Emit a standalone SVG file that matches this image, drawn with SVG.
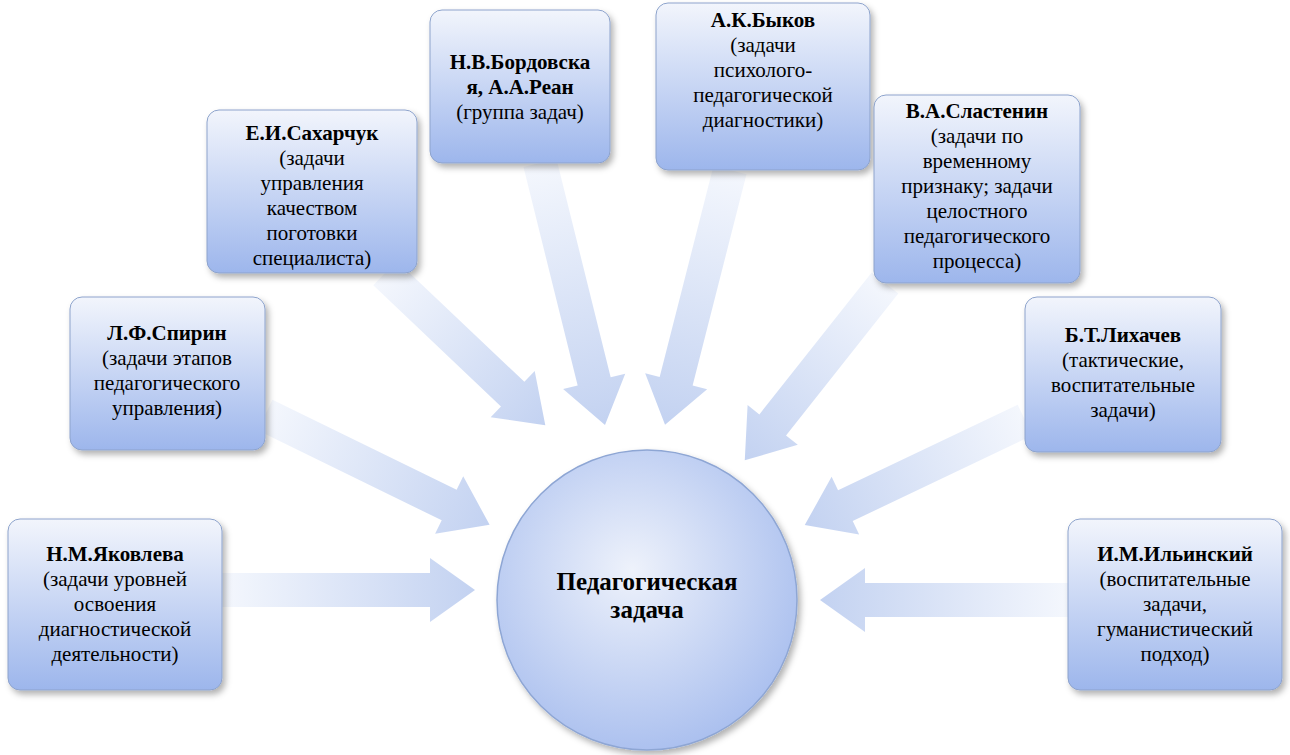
<svg xmlns="http://www.w3.org/2000/svg" width="1290" height="755" viewBox="0 0 1290 755" font-family="'Liberation Serif', 'Times New Roman', 'DejaVu Serif', serif">
<defs>
<linearGradient id="bg" x1="0" y1="0" x2="0" y2="1"><stop offset="0" stop-color="#f2f5fc"/><stop offset="1" stop-color="#9db6ec"/></linearGradient>
<linearGradient id="ag" x1="0" y1="0" x2="1" y2="0"><stop offset="0" stop-color="#f4f7fd"/><stop offset="1" stop-color="#c3d2f1"/></linearGradient>
<radialGradient id="cg" cx="0.45" cy="0.4" r="0.65"><stop offset="0" stop-color="#eef2fb"/><stop offset="1" stop-color="#a7bdee"/></radialGradient>
<filter id="sh" x="-10%" y="-10%" width="130%" height="130%"><feDropShadow dx="3" dy="4" stdDeviation="3" flood-color="#000" flood-opacity="0.3"/></filter>
</defs>
<style>
.box{fill:url(#bg);stroke:#8da3cc;stroke-width:1;filter:url(#sh)}
.arr{fill:url(#ag)}
text{font-family:'Liberation Serif','Times New Roman','DejaVu Serif',serif;font-size:21px;fill:#000;text-anchor:middle}
.b{font-weight:bold}
</style>
<g id="connectors">
<polygon class="arr" transform="translate(222,590)" points="0,-17 208,-17 208,-32 253,0 208,32 208,17 0,17"/>
<polygon class="arr" transform="translate(265,415) rotate(26.05)" points="0,-17 205,-17 205,-32 250,0 205,32 205,17 0,17"/>
<polygon class="arr" transform="translate(385,273) rotate(43.5)" points="0,-17 176,-17 176,-32 221,0 176,32 176,17 0,17"/>
<polygon class="arr" transform="translate(540,163) rotate(76.07)" points="0,-17 225,-17 225,-32 270,0 225,32 225,17 0,17"/>
<polygon class="arr" transform="translate(730,170) rotate(104.3)" points="0,-17 218,-17 218,-32 263,0 218,32 218,17 0,17"/>
<polygon class="arr" transform="translate(885,283) rotate(128.35)" points="0,-17 181,-17 181,-32 226,0 181,32 181,17 0,17"/>
<polygon class="arr" transform="translate(1025,420) rotate(154.5)" points="0,-17 199,-17 199,-32 244,0 199,32 199,17 0,17"/>
<polygon class="arr" transform="translate(1068,600) rotate(180)" points="0,-17 203,-17 203,-32 248,0 203,32 203,17 0,17"/>
</g>
<g id="center">
<circle cx="647" cy="600" r="150" fill="url(#cg)" stroke="#8ea6d4" stroke-width="1.5" filter="url(#sh)"/>
<text x="647" y="590" class="b" style="font-size:25px">Педагогическая</text>
<text x="647" y="618" class="b" style="font-size:25px">задача</text>
</g>
<g id="n1"><rect class="box" x="8" y="519" width="214" height="171" rx="12"/>
<text x="115" y="561" class="b">Н.М.Яковлева</text><text x="115" y="586">(задачи уровней</text><text x="115" y="611">освоения</text><text x="115" y="636">диагностической</text><text x="115" y="661">деятельности)</text></g>
<g id="n2"><rect class="box" x="70" y="297" width="195" height="153" rx="12"/>
<text x="167" y="340" class="b">Л.Ф.Спирин</text><text x="167" y="365">(задачи этапов</text><text x="167" y="390">педагогического</text><text x="167" y="415">управления)</text></g>
<g id="n3"><rect class="box" x="207" y="110" width="210" height="163" rx="12"/>
<text x="312" y="140" class="b">Е.И.Сахарчук</text><text x="312" y="165">(задачи</text><text x="312" y="190">управления</text><text x="312" y="215">качеством</text><text x="312" y="240">поготовки</text><text x="312" y="265">специалиста)</text></g>
<g id="n4"><rect class="box" x="430" y="10" width="180" height="153" rx="12"/>
<text x="520" y="69" class="b">Н.В.Бордовска</text><text x="520" y="94" class="b">я, А.А.Реан</text><text x="520" y="119">(группа задач)</text></g>
<g id="n5"><rect class="box" x="656" y="3" width="214" height="167" rx="12"/>
<text x="763" y="27" class="b">А.К.Быков</text><text x="763" y="52">(задачи</text><text x="763" y="77">психолого-</text><text x="763" y="102">педагогической</text><text x="763" y="127">диагностики)</text></g>
<g id="n6"><rect class="box" x="874" y="95" width="206" height="188" rx="12"/>
<text x="977" y="118" class="b">В.А.Сластенин</text><text x="977" y="143">(задачи по</text><text x="977" y="168">временному</text><text x="977" y="193">признаку; задачи</text><text x="977" y="218">целостного</text><text x="977" y="243">педагогического</text><text x="977" y="268">процесса)</text></g>
<g id="n7"><rect class="box" x="1025" y="297" width="196" height="155" rx="12"/>
<text x="1123" y="342" class="b">Б.Т.Лихачев</text><text x="1123" y="367">(тактические,</text><text x="1123" y="392">воспитательные</text><text x="1123" y="417">задачи)</text></g>
<g id="n8"><rect class="box" x="1068" y="519" width="214" height="171" rx="12"/>
<text x="1175" y="561" class="b">И.М.Ильинский</text><text x="1175" y="586">(воспитательные</text><text x="1175" y="611">задачи,</text><text x="1175" y="636">гуманистический</text><text x="1175" y="661">подход)</text></g>
</svg>
